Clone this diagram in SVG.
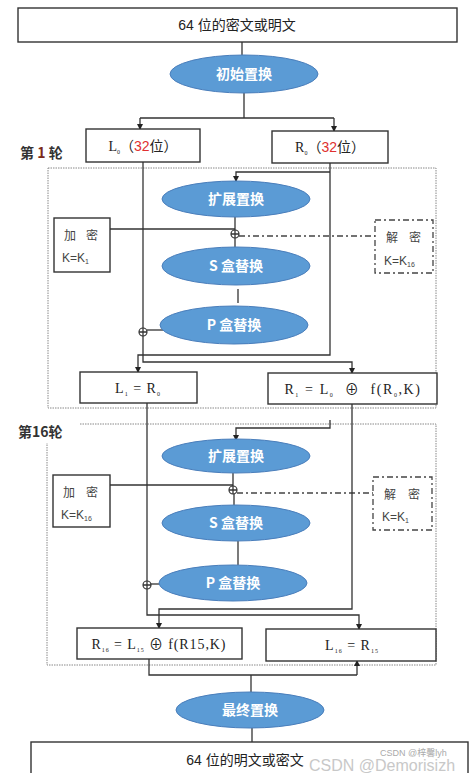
<svg xmlns="http://www.w3.org/2000/svg" width="474" height="773" viewBox="0 0 474 773">
<style>
.box{fill:#fff;stroke:#333;stroke-width:1.4}
.ell{fill:#5b9bd5;stroke:#4a7ebb;stroke-width:1}
.et{font-family:"Noto Sans CJK SC",sans-serif;font-size:14px;font-weight:bold;fill:#fff;text-anchor:middle}
.bt{font-family:"Liberation Sans","Noto Sans CJK SC",sans-serif;font-size:14px;fill:#222;text-anchor:middle}
.st{font-family:"Liberation Serif","Noto Sans CJK SC",serif;font-size:14px;fill:#222;text-anchor:middle}
.kt{font-family:"Liberation Sans","Noto Sans CJK SC",sans-serif;font-size:12px;fill:#444}
.lab{font-family:"Noto Sans CJK SC",sans-serif;font-size:14px;font-weight:bold;fill:#333}
.ln{fill:none;stroke:#333;stroke-width:1.3}
.dd{fill:none;stroke:#444;stroke-width:1.3;stroke-dasharray:6,3,2,3}
.dot{fill:none;stroke:#888;stroke-width:1;stroke-dasharray:1.5,1}
.xor{fill:#fff;stroke:#333;stroke-width:1.2}
.red{fill:#e03030}
</style>
<defs>
<marker id="ar" markerWidth="6" markerHeight="6" refX="5" refY="3" orient="auto" markerUnits="userSpaceOnUse">
<path d="M0,0 L6,3 L0,6 z" fill="#222"/>
</marker>
</defs>

<!-- round frames -->
<g id="round1">
<rect class="dot" x="48" y="168" width="388" height="240"/>
<text class="lab" x="20" y="158">第 <tspan fill="#7a2a1a">1</tspan> 轮</text>
</g>
<g id="round16">
<path class="dot" d="M80,424 H436 V665 H47 V443"/>
<text class="lab" x="18" y="437">第16轮</text>
</g>

<g id="connectors">
<path class="ln" d="M242,42 V55"/>
<path class="ln" d="M244,93 V118 M140,118 H334"/>
<path class="ln" d="M140,118 V129" marker-end="url(#ar)"/>
<path class="ln" d="M334,118 V131" marker-end="url(#ar)"/>
<!-- round 1 -->
<path class="ln" d="M330,163 V355 H138 V372" marker-end="url(#ar)"/>
<path class="ln" d="M330,172 H236 V181" marker-end="url(#ar)"/>
<path class="ln" d="M235,217 V230"/>
<path class="ln" d="M110,229 H235"/>
<path class="dd" d="M239,236 H375"/>
<path class="ln" d="M235,238 V247"/>
<path class="ln" d="M238,289 V303"/>
<path class="ln" d="M143,162 V328"/>
<path class="ln" d="M147,330 H163"/>
<path class="ln" d="M143,336 V362 H352 V373" marker-end="url(#ar)"/>
<!-- round 16 -->
<path class="ln" d="M330,420 V428 H236 V440" marker-end="url(#ar)"/>
<path class="ln" d="M233,473 V486"/>
<path class="ln" d="M110,485 H233"/>
<path class="dd" d="M237,493 H373"/>
<path class="ln" d="M234,494 V505"/>
<path class="ln" d="M238,541 V565"/>
<path class="ln" d="M147,403 V581"/>
<path class="ln" d="M151,584 H161"/>
<path class="ln" d="M147,589 V615 H359 V629" marker-end="url(#ar)"/>
<path class="ln" d="M352,404 V609 H159 V628" marker-end="url(#ar)"/>
<!-- final -->
<path class="ln" d="M149,659 V675 H357"/>
<path class="ln" d="M357,675 V661" marker-end="url(#ar)"/>
<path class="ln" d="M251,675 V692"/>
<path class="ln" d="M252,728 V742"/>
</g>

<g id="xor1"><circle class="xor" cx="235" cy="234" r="4"/><path class="ln" d="M231,234 H239 M235,230 V238" stroke-width="1"/></g>
<g id="xor2"><circle class="xor" cx="143" cy="332" r="4"/><path class="ln" d="M139,332 H147 M143,328 V336" stroke-width="1"/></g>
<g id="xor3"><circle class="xor" cx="233" cy="490" r="4"/><path class="ln" d="M229,490 H237 M233,486 V494" stroke-width="1"/></g>
<g id="xor4"><circle class="xor" cx="147" cy="585" r="4"/><path class="ln" d="M143,585 H151 M147,581 V589" stroke-width="1"/></g>

<g id="input"><rect class="box" x="18" y="8" width="439" height="34"/><text class="bt" x="237" y="30">64 位的密文或明文</text></g>
<g id="ip"><ellipse class="ell" cx="244" cy="74" rx="74" ry="19"/><text class="et" x="244" y="79">初始置换</text></g>
<g id="L0"><rect class="box" x="86" y="129" width="114" height="33"/><text class="st" x="143" y="151">L<tspan font-size="6" dy="3">0</tspan><tspan dy="-3">（</tspan><tspan class="red" font-family="Liberation Sans,sans-serif">32</tspan>位）</text></g>
<g id="R0"><rect class="box" x="272" y="131" width="116" height="32"/><text class="st" x="330" y="152">R<tspan font-size="6" dy="3">0</tspan><tspan dy="-3">（</tspan><tspan class="red" font-family="Liberation Sans,sans-serif">32</tspan>位）</text></g>

<g id="e1"><ellipse class="ell" cx="236" cy="199" rx="74" ry="18"/><text class="et" x="236" y="204">扩展置换</text></g>
<g id="enc1"><rect class="box" x="54" y="218" width="56" height="54"/><text class="kt" x="64" y="240">加</text><text class="kt" x="86" y="240">密</text><text class="kt" x="62" y="262">K=K<tspan font-size="7" dy="2">1</tspan></text></g>
<g id="dec1"><rect class="dd" x="375" y="220" width="58" height="53" fill="#fff"/><text class="kt" x="386" y="242">解</text><text class="kt" x="409" y="242">密</text><text class="kt" x="384" y="265">K=K<tspan font-size="7" dy="2">16</tspan></text></g>
<g id="s1"><ellipse class="ell" cx="236" cy="266" rx="74" ry="19"/><text class="et" x="236" y="271">S 盒替换</text></g>
<g id="p1"><ellipse class="ell" cx="234" cy="325" rx="74" ry="19"/><text class="et" x="234" y="330">P 盒替换</text></g>
<g id="L1"><rect class="box" x="80" y="372" width="117" height="31"/><text class="st" x="138" y="393" letter-spacing="1">L<tspan font-size="6" dy="3">1</tspan><tspan dy="-3"> = R</tspan><tspan font-size="6" dy="3">0</tspan></text></g>
<g id="R1"><rect class="box" x="268" y="373" width="169" height="31"/><text class="st" x="353" y="394" letter-spacing="1.6">R<tspan font-size="6" dy="3">1</tspan><tspan dy="-3"> = L</tspan><tspan font-size="6" dy="3">0</tspan><tspan dy="-3" xml:space="preserve">  ⊕  f(R</tspan><tspan font-size="6" dy="3">0</tspan><tspan dy="-3">,K)</tspan></text></g>

<g id="e16"><ellipse class="ell" cx="236" cy="456" rx="74" ry="17"/><text class="et" x="236" y="461">扩展置换</text></g>
<g id="enc16"><rect class="box" x="53" y="475" width="57" height="52"/><text class="kt" x="63" y="497">加</text><text class="kt" x="86" y="497">密</text><text class="kt" x="61" y="519">K=K<tspan font-size="7" dy="2">16</tspan></text></g>
<g id="dec16"><rect class="dd" x="373" y="477" width="59" height="53" fill="#fff"/><text class="kt" x="384" y="499">解</text><text class="kt" x="408" y="499">密</text><text class="kt" x="382" y="521">K=K<tspan font-size="7" dy="2">1</tspan></text></g>
<g id="s16"><ellipse class="ell" cx="236" cy="523" rx="74" ry="18"/><text class="et" x="236" y="528">S 盒替换</text></g>
<g id="p16"><ellipse class="ell" cx="233" cy="583" rx="74" ry="18"/><text class="et" x="233" y="588">P 盒替换</text></g>
<g id="R16"><rect class="box" x="77" y="628" width="165" height="31"/><text class="st" x="159" y="649" letter-spacing="0.9">R<tspan font-size="6" dy="3">16</tspan><tspan dy="-3"> = L</tspan><tspan font-size="6" dy="3">15</tspan><tspan dy="-3"> ⊕ f(R15,K)</tspan></text></g>
<g id="L16"><rect class="box" x="266" y="629" width="170" height="32"/><text class="st" x="352" y="650" letter-spacing="1">L<tspan font-size="6" dy="3">16</tspan><tspan dy="-3"> = R</tspan><tspan font-size="6" dy="3">15</tspan></text></g>

<g id="fp"><ellipse class="ell" cx="250" cy="710" rx="74" ry="18"/><text class="et" x="250" y="715">最终置换</text></g>
<g id="output"><rect class="box" x="31" y="742" width="437" height="40"/><text class="bt" x="245" y="765">64 位的明文或密文</text></g>

<g id="watermark">
<text x="309" y="771" font-family="Liberation Sans,sans-serif" font-size="16" fill="#c8c8c8">CSDN @Demorisizh</text>
<text x="380" y="756" font-family="Liberation Sans,'Noto Sans CJK SC',sans-serif" font-size="9" fill="#aaa">CSDN @梓馨lyh</text>
</g>
</svg>
